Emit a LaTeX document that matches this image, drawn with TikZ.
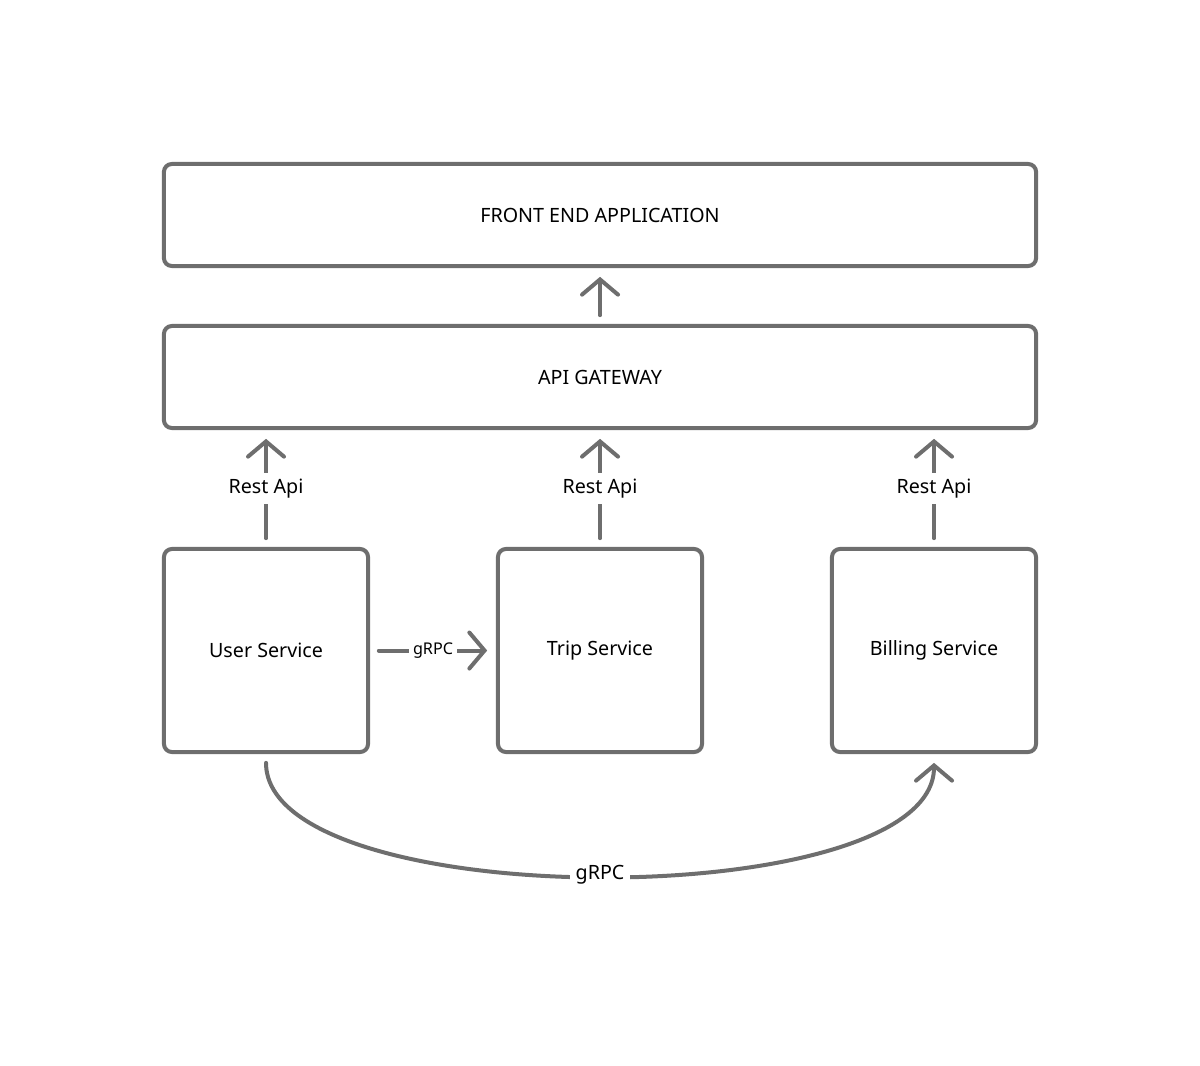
\documentclass[tikz,border=0pt]{standalone}
\usepackage{fontspec}
\setmainfont{Noto Sans}
\usetikzlibrary{arrows.meta, positioning}

\begin{document}
\begin{tikzpicture}[
    x=0.025cm, y=-0.025cm,
    wide/.style={
        rectangle,
        draw=linegray,
        line width=0.1cm,
        rounded corners=0.2cm,
        minimum width=21.8cm,
        minimum height=2.55cm,
        font=\fontsize{14}{16}\selectfont
    },
    service/.style={
        wide,
        minimum width=5.1cm,
        minimum height=5.075cm
    },
    arrow/.style={
        -{Straight Barb[length=0.38cm, width=0.9cm, line cap=round]},
        draw=linegray,
        line width=0.1cm,
        line cap=round,
        shorten <=0.22cm,
        shorten >=0.22cm
    },
    lbl/.style={
        fill=white,
        inner sep=4pt,
        font=\fontsize{14}{16}\selectfont
    }
]
\definecolor{linegray}{HTML}{6E6E6E}
\useasboundingbox (0,0) rectangle (1200,1065);

% Nodes
\node[wide] (front) at (600,215) {FRONT END APPLICATION};
\node[wide] (gateway) at (600,377) {API GATEWAY};
\node[service] (user) at (266,650.5) {User Service};
\node[service] (trip) at (600,650.5) {Trip Service};
\node[service] (billing) at (934,650.5) {Billing Service};

% Arrows
\draw[arrow] (gateway) -- (front);
\draw[arrow] (user) -- node[lbl] {Rest Api} (user |- gateway.south);
\draw[arrow] (trip) -- node[lbl] {Rest Api} (trip |- gateway.south);
\draw[arrow] (billing) -- node[lbl] {Rest Api} (billing |- gateway.south);
\draw[arrow] (user) -- node[lbl, font=\fontsize{11.5}{13}\selectfont, inner sep=3pt] {gRPC} (trip);
\draw[arrow] (user.south) .. controls (266,915) and (934,915) .. node[lbl] {gRPC} (billing.south);

\end{tikzpicture}
\end{document}
